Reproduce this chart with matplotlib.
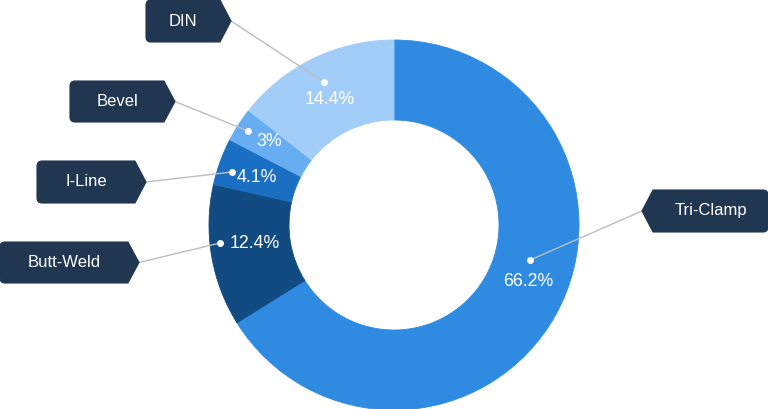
import matplotlib
matplotlib.use("Agg")
import matplotlib.pyplot as plt
from matplotlib.path import Path
from matplotlib.patches import PathPatch

plt.rcParams['font.family'] = ['Liberation Sans', 'DejaVu Sans']

# data
categories = ["Tri-Clamp", "Butt-Weld", "I-Line", "Bevel", "DIN"]
shares = [66.2, 12.4, 4.1, 3.0, 14.4]
pct_labels = ["66.2%", "12.4%", "4.1%", "3%", "14.4%"]
colors = ["#2f8be2", "#114b82", "#1a6fc2", "#66adf1", "#a1cdf8"]

W, H = 768, 409
BOX = "#203651"

# label layout in pixels (top-left origin): box x0, flat end, tip x, top, bottom
boxes = [
    (768, 653, 642, 190, 232),
    (0, 128, 139, 242, 283),
    (37, 135, 146, 161, 203),
    (70, 164, 175, 81, 122),
    (146, 220, 231, 0, 42),
]
dots = [(530, 260), (220, 243), (232, 172), (248, 131), (324, 82)]
pct_pos = [((528, 282), "center"), ((230, 243), "left"), ((237, 177), "left"),
           ((256, 142), "left"), ((330, 100), "center")]


def py(y):
    return H - y


def tag_path(x0, x1, xt, top, bot, r=5):
    # rounded box with a chevron tip on one side
    s = 1 if xt > x0 else -1
    yt, yb, ym = py(top), py(bot), py((top + bot) / 2)
    verts = [
        (x0 + s * r, yt), (x1, yt), (xt, ym), (x1, yb), (x0 + s * r, yb),
        (x0, yb), (x0, yb + r), (x0, yt - r), (x0, yt), (x0 + s * r, yt),
    ]
    codes = [Path.MOVETO, Path.LINETO, Path.LINETO, Path.LINETO, Path.LINETO,
             Path.CURVE3, Path.CURVE3, Path.LINETO, Path.CURVE3, Path.CURVE3]
    return Path(verts, codes)


fig = plt.figure(figsize=(W / 100, H / 100), dpi=100)
ax = fig.add_axes([0, 0, 1, 1])

wedges, _ = ax.pie(shares, colors=colors, startangle=90, counterclock=False,
                   radius=185, center=(394, py(225)),
                   wedgeprops=dict(width=80, linewidth=0.6))
for w, c in zip(wedges, colors):
    w.set_edgecolor(c)

for i, name in enumerate(categories):
    x0, x1, xt, top, bot = boxes[i]
    ax.add_patch(PathPatch(tag_path(x0, x1, xt, top, bot), facecolor=BOX,
                           edgecolor=BOX, linewidth=0.8, zorder=5))
    ax.text((x0 + x1) / 2, py((top + bot) / 2), name, color="white",
            fontsize=12, ha="center", va="center", zorder=6)
    dx, dy = dots[i]
    ax.plot([xt, dx], [py((top + bot) / 2), py(dy)], color="#bdbdbd",
            lw=1, zorder=4)
    ax.plot(dx, py(dy), "o", color="white", ms=5, mec="none", zorder=6)
    (tx, ty), ha = pct_pos[i]
    ax.text(tx, py(ty), pct_labels[i], color="white", fontsize=12.8,
            ha=ha, va="center", zorder=6)

ax.set_xlim(0, W)
ax.set_ylim(0, H)
ax.set_aspect("auto")
ax.axis("off")

fig.savefig("out.png", dpi=100)
